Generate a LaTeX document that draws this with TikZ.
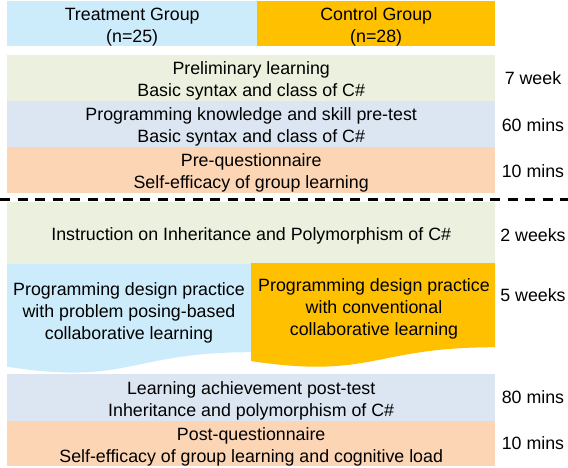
\documentclass[tikz,border=0pt]{standalone}
\usepackage{fontspec}
\setmainfont{Liberation Sans}
\definecolor{treatblue}{RGB}{204,236,251}
\definecolor{ctrlorange}{RGB}{255,192,0}
\definecolor{lgreen}{RGB}{235,241,222}
\definecolor{lgrayblue}{RGB}{220,230,242}
\definecolor{lpeach}{RGB}{252,213,181}
\newcommand{\tstr}{\rule{0pt}{19.2pt}}
\newcommand{\bstr}{\rule[-4pt]{0pt}{4pt}}
\begin{document}
\begin{tikzpicture}[x=1pt,y=-1pt,
  every node/.style={font=\fontsize{17.8}{22}\selectfont, align=center, inner sep=0pt, text=black},
  band/.style={anchor=north west, minimum height=46pt, minimum width=488pt},
  timelbl/.style={anchor=center},
  dashline/.style={line width=3pt, dash pattern=on 10pt off 7.5pt}]
\useasboundingbox (0,0) rectangle (568,467);
% header
\node[band, fill=treatblue, minimum width=250pt, minimum height=45pt] (treat) at (7,1) {\tstr Treatment Group\\(n=25)\bstr};
\node[band, fill=ctrlorange, minimum width=238pt, minimum height=45pt] (ctrl) at (257,1) {\tstr Control Group\\(n=28)\bstr};
% pre phase
\node[band, fill=lgreen] (prelim) at (7,55) {\tstr Preliminary learning\\Basic syntax and class of C\#\bstr};
\node[band, fill=lgrayblue] (pretest) at (7,101) {\tstr Programming knowledge and skill pre-test\\Basic syntax and class of C\#\bstr};
\node[band, fill=lpeach] (preq) at (7,147) {\tstr Pre-questionnaire\\Self-efficacy of group learning\bstr};
\node[timelbl] (t1) at (533,78) {7 week};
\node[timelbl] (t2) at (533,125) {60 mins};
\node[timelbl] (t3) at (533,171) {10 mins};
% divider
\coordinate (dl) at (0,199);
\coordinate (dr) at (568,199);
\draw[dashline] (dl) -- (dr);
% instruction
\node[band, fill=lgreen, minimum height=62pt] (instr) at (7,202) {\tstr Instruction on Inheritance and Polymorphism of C\#\bstr};
\node[timelbl] (t4) at (533,235) {2 weeks};
% practice
\fill[treatblue] (7,264) -- (251,264) -- (251,352.2) .. controls (129,352.2) and (129,385.8) .. (7,366.7) -- cycle;
\node (prtreat) at (129,310) {\tstr Programming design practice\\with problem posing-based\\collaborative learning\bstr};
\fill[ctrlorange] (251,263) -- (495,263) -- (495,347.2) .. controls (373,347.2) and (373,379.3) .. (251,361.1) -- cycle;
\node (prctrl) at (374,305.5) {\tstr Programming design practice\\with conventional\\collaborative learning\bstr};
\node[timelbl] (t5) at (533,295) {5 weeks};
% post phase
\node[band, fill=lgrayblue, minimum height=46.5pt] (posttest) at (7,374) {\tstr Learning achievement post-test\\Inheritance and polymorphism of C\#\bstr};
\node[band, fill=lpeach, minimum height=45.5pt] (postq) at (7,420.5) {\tstr Post-questionnaire\\Self-efficacy of group learning and cognitive load\bstr};
\node[timelbl] (t6) at (533,397) {80 mins};
\node[timelbl] (t7) at (533,443) {10 mins};
\end{tikzpicture}
\end{document}
